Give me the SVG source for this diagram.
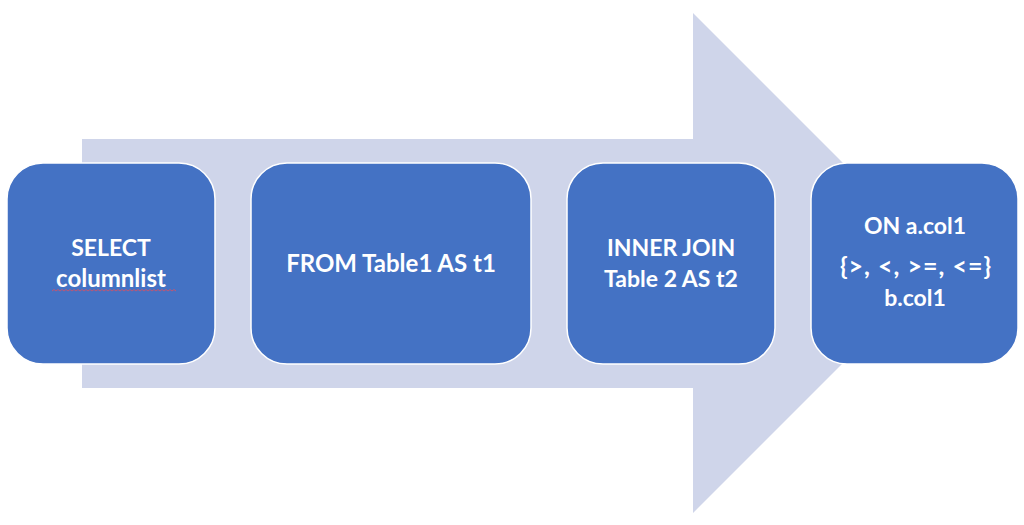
<svg xmlns="http://www.w3.org/2000/svg" width="1024" height="525" viewBox="0 0 1024 525">
<style>
.box{fill:#4472C4;stroke:#FFFFFF;stroke-width:1.5}
.t{fill:#FFFFFF;font-family:Lato,"Open Sans","Liberation Sans",sans-serif;font-weight:bold;font-size:23px;text-anchor:middle}
</style>
<rect width="1024" height="525" fill="#FFFFFF"/>
<g id="arrow">
<polygon points="82,139 693,139 693,13 943,263 693,513 693,388 82,388" fill="#CFD5EA"/>
</g>
<g id="node-select">
<rect class="box" x="7" y="163" width="208" height="201" rx="36"/>
<text class="t" x="111" y="256">SELECT</text>
<text class="t" x="111" y="287" style="font-size:24px">columnlist</text>
<path d="M52,291 l2,-1.5 l2,1.5 l2,-1.5 l2,1.5 l2,-1.5 l2,1.5 l2,-1.5 l2,1.5 l2,-1.5 l2,1.5 l2,-1.5 l2,1.5 l2,-1.5 l2,1.5 l2,-1.5 l2,1.5 l2,-1.5 l2,1.5 l2,-1.5 l2,1.5 l2,-1.5 l2,1.5 l2,-1.5 l2,1.5 l2,-1.5 l2,1.5 l2,-1.5 l2,1.5 l2,-1.5 l2,1.5 l2,-1.5 l2,1.5 l2,-1.5 l2,1.5 l2,-1.5 l2,1.5 l2,-1.5 l2,1.5 l2,-1.5 l2,1.5 l2,-1.5 l2,1.5 l2,-1.5 l2,1.5 l2,-1.5 l2,1.5 l2,-1.5 l2,1.5 l2,-1.5 l2,1.5 l2,-1.5 l2,1.5 l2,-1.5 l2,1.5 l2,-1.5 l2,1.5 l2,-1.5 l2,1.5 l2,-1.5 l2,1.5 l2,-1.5 l2,1.5" fill="none" stroke="#E05060" stroke-width="0.8"/>
</g>
<g id="node-from">
<rect class="box" x="251" y="163" width="280" height="201" rx="36"/>
<text class="t" x="391" y="272" style="font-size:24px">FROM Table1 AS t1</text>
</g>
<g id="node-join">
<rect class="box" x="567" y="163" width="208" height="201" rx="36"/>
<text class="t" x="671" y="256">INNER JOIN</text>
<text class="t" x="671" y="287">Table 2 AS t2</text>
</g>
<g id="node-on">
<rect class="box" x="811" y="163" width="207" height="201" rx="36"/>
<text class="t" x="915" y="234">ON a.col1</text>
<text class="t" x="916" y="275" style="font-size:25px;letter-spacing:1px">{&gt;, &lt;, &gt;=, &lt;=}</text>
<text class="t" x="915" y="306">b.col1</text>
</g>
<g id="connectors"></g>
</svg>
